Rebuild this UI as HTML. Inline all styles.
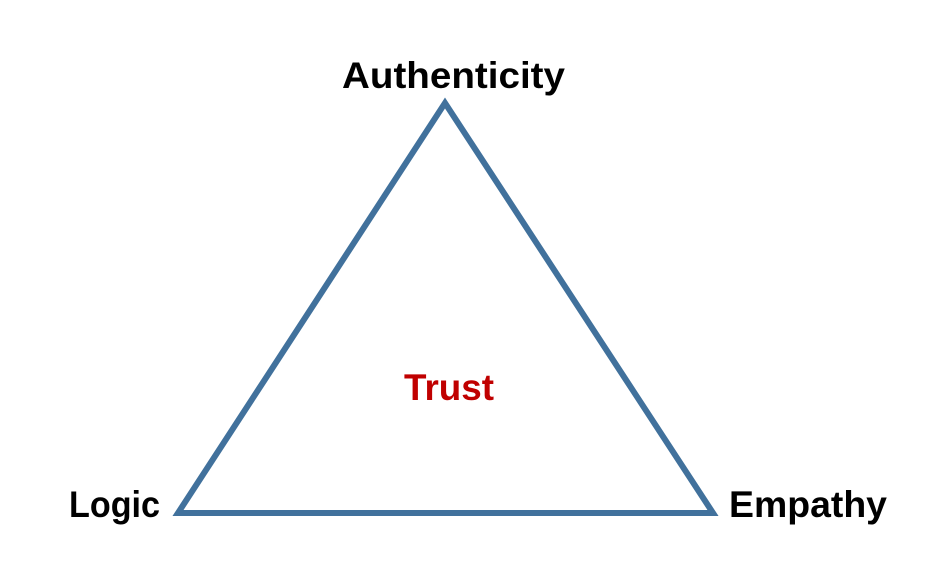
<!DOCTYPE html>
<html><head><meta charset="utf-8"><style>
html,body{margin:0;padding:0;background:#fff;}
svg{display:block}
text{font-family:"Liberation Sans",sans-serif;font-weight:bold;font-size:37px;}
</style></head><body>
<svg width="947" height="575" viewBox="0 0 947 575" xmlns="http://www.w3.org/2000/svg">
<rect width="947" height="575" fill="#fff"/>
<polygon points="445,103 178,513 713,513" fill="none" stroke="#41719c" stroke-width="6" stroke-linejoin="miter"/>
<text x="342" y="88" textLength="223" lengthAdjust="spacingAndGlyphs" fill="#000">Authenticity</text>
<text x="69" y="517" textLength="91" lengthAdjust="spacingAndGlyphs" fill="#000">Logic</text>
<text x="729" y="517" textLength="158" lengthAdjust="spacingAndGlyphs" fill="#000">Empathy</text>
<text x="404" y="400" textLength="90" lengthAdjust="spacingAndGlyphs" fill="#c00000">Trust</text>
</svg>
</body></html>
